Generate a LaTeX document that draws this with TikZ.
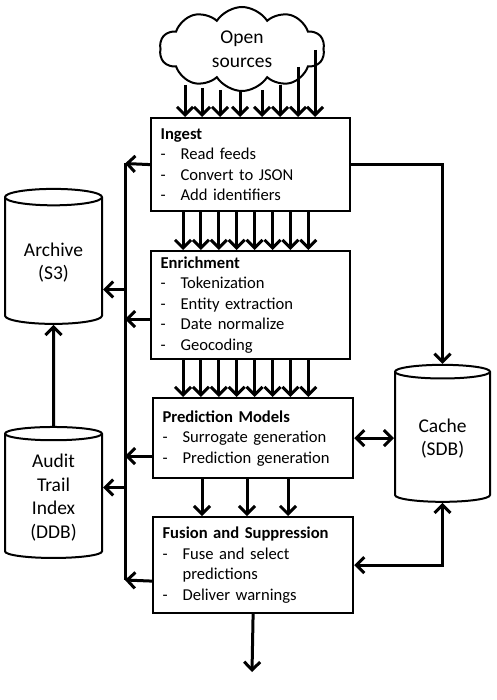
\documentclass[tikz,border=0pt]{standalone}
\usepackage{fontspec}
\setmainfont{Carlito}
\usetikzlibrary{shapes.geometric, shapes.symbols, arrows.meta, positioning, calc}

\newcommand{\itm}{\makebox[20pt][l]{-}}

\begin{document}
\begin{tikzpicture}[
        x=1pt, y=-1pt,
        font=\fontsize{16.6}{20.5}\selectfont,
        stage/.style={
            rectangle,
            draw=black,
            line width=2.2pt,
            fill=white,
            align=left,
            text width=180pt,
            inner xsep=9.5pt,
            inner ysep=1pt,
            anchor=north west
        },
        store/.style={
            cylinder,
            shape border rotate=90,
            aspect=0.25,
            draw=black,
            line width=2pt,
            fill=white,
            align=center,
            minimum width=97pt,
            font=\fontsize{19.5}{23.5}\selectfont
        },
        flow/.style={
            line width=3pt,
            -{Straight Barb[length=8pt,width=16pt]}
        },
        both/.style={
            line width=3pt,
            {Straight Barb[length=8pt,width=16pt]}-{Straight Barb[length=8pt,width=16pt]}
        },
        link/.style={line width=3pt}
    ]

    \useasboundingbox (0,0) rectangle (496,700);

    % Source cloud
    \node[cloud, cloud puffs=10, cloud puff arc=115, aspect=1.9, draw=black, line width=2pt, fill=white,
          minimum width=165pt, minimum height=84pt, align=center,
          font=\fontsize{19.5}{24}\selectfont] (sources) at (242,49) {Open\\sources};

    % Pipeline stages
    \node[stage, minimum height=93pt] (ingest) at (150,117) {\textbf{Ingest}\\
    \itm Read feeds\\
    \itm Convert to JSON\\
    \itm Add identifiers};

    \node[stage, minimum height=108pt] (enrich) at (150,250) {\textbf{Enrichment}\\
    \itm Tokenization\\
    \itm Entity extraction\\
    \itm Date normalize\\
    \itm Geocoding};

    \node[stage, minimum height=80pt, text width=181pt] (predict) at (152,397) {\textbf{Prediction Models}\\
    \itm Surrogate generation\\
    \itm Prediction generation};

    \node[stage, minimum height=96pt, text width=181pt] (fusion) at (152,516) {\textbf{Fusion and Suppression}\\
    \itm Fuse and select\\
    \hspace*{20pt}predictions\\
    \itm Deliver warnings};

    % Data stores
    \node[store, minimum height=135pt] (archive) at (53.5,262.5) {Archive\\(S3)};
    \node[store, minimum height=131pt] (audit) at (53.5,497.5) {Audit\\Trail\\Index\\(DDB)};
    \node[store, minimum height=137pt, minimum width=95pt] (cache) at (442.5,438.5) {Cache\\(SDB)};

    % Feeds into ingest
    \foreach \x/\y in {185/85, 202/88, 220/90, 240/92, 262/90, 280/85, 298/67, 315/50}
        \draw[flow] (\x,\y) -- (\x,0 |- ingest.north);

    % Stage to stage
    \foreach \k in {0,...,7}
        \draw[flow] ($(ingest.south west)+(33+17.9*\k,0)$) -- ($(enrich.north west)+(33+17.9*\k,0)$);
    \foreach \k in {0,...,7}
        \draw[flow] ($(enrich.south west)+(33+17.9*\k,0)$) -- ($(predict.north west)+(31+17.9*\k,0)$);
    \foreach \dx in {50,95,136}
        \draw[flow] ($(predict.south west)+(\dx,0)$) -- ($(fusion.north west)+(\dx,0)$);

    % Output
    \coordinate (warnings) at (252,672);
    \draw[flow] (fusion.south) -- (warnings);

    % Archive bus
    \coordinate (bustop) at (125,163.5);
    \coordinate (busbot) at (125,580);
    \draw[link] (bustop) -- (busbot);
    \coordinate (fromenr) at ($(enrich.west)+(0,14)$);
    \coordinate (frompred) at ($(predict.west)+(0,18)$);
    \coordinate (fromfus) at ($(fusion.west)+(0,16)$);
    \draw[flow] (ingest.west) -- (bustop);
    \draw[flow] (fromenr) -- (fromenr -| bustop);
    \draw[flow] (frompred) -- (frompred -| bustop);
    \draw[flow] (fromfus) -- (busbot);
    \coordinate (toarch) at ($(archive.east)+(0,27)$);
    \coordinate (toaudit) at ($(audit.east)+(0,-10)$);
    \draw[flow] (toarch -| bustop) -- (toarch);
    \draw[flow] (toaudit -| bustop) -- (toaudit);
    \draw[flow] (audit.north) -- (archive.south);

    % Cache links
    \draw[flow] (ingest.east) -| (cache.north);
    \draw[both] (predict.east) -- (predict.east -| cache.west);
    \draw[both] (fusion.east) -| (cache.south);

\end{tikzpicture}
\end{document}
